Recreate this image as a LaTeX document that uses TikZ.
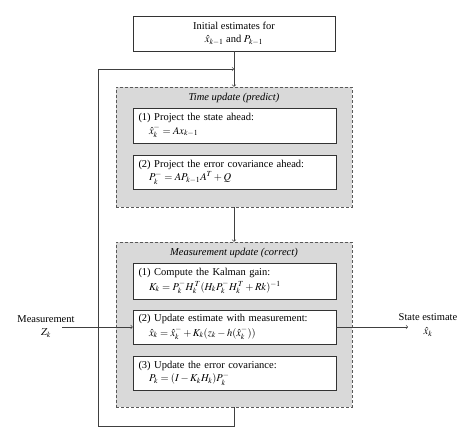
\documentclass[tikz,border=0pt]{standalone}
\usepackage{mathptmx}
\usepackage[no-math]{fontspec}
\setmainfont{Liberation Serif}
\usepackage{amsmath}
\usetikzlibrary{shapes.geometric, arrows}
\tikzstyle{startbox} = [rectangle, minimum width=202pt, minimum height=35pt, align=center, draw=black!80, fill=white, semithick]
\tikzstyle{stepbox} = [rectangle, minimum width=203pt, minimum height=35pt, text width=192pt, inner xsep=5pt, inner ysep=2pt, align=left, draw=black!80, fill=white, semithick]
\tikzstyle{groupbox} = [rectangle, minimum width=236pt, draw=black!65, fill=gray!30, dash pattern=on 3pt off 2pt, semithick]
\tikzstyle{arrow} = [semithick,->,>=to, draw=black!75]

\begin{document}
\begin{tikzpicture}[x=1pt, y=-1pt, font=\fontsize{10.5}{13.5}\selectfont]
\useasboundingbox (0,0) rectangle (474,443);

\node (init) [startbox] at (234,33.5) {Initial estimates for\\ $\hat{x}_{k-1}$ and $P_{k-1}$};

% time update
\node (timegrp) [groupbox, minimum height=120pt] at (234,147) {};
\node (timetitle) at (234,98) {\textit{Time update (predict)}};
\node (predstate) [stepbox] at (234.5,125.5) {(1) Project the state ahead:\\ \hspace*{1em}$\hat{x}_k^- = Ax_{k-1}$};
\node (predcov) [stepbox, minimum height=34pt] at (234.5,172) {(2) Project the error covariance ahead:\\ \hspace*{1em}$P_k^- = AP_{k-1}A^T + Q$};

% measurement update
\node (measgrp) [groupbox, minimum height=165pt] at (234,324.5) {};
\node (meastitle) at (234,253) {\textit{Measurement update (correct)}};
\node (gain) [stepbox, minimum height=36pt] at (234.5,281) {(1) Compute the Kalman gain:\\[1pt] \hspace*{1em}$K_k = P_k^- H_k^{\,T}(H_k P_k^- H_k^{\,T} + Rk)^{-1}$};
\node (updest) [stepbox, minimum height=34pt] at (234.5,327) {(2) Update estimate with measurement:\\[1pt] \hspace*{1em}$\hat{x}_k = \hat{x}_k^- + K_k(z_k - h(\hat{x}_k^-))$};
\node (updcov) [stepbox, minimum height=34pt] at (234.5,373) {(3) Update the error covariance:\\ \hspace*{1em}$P_k = (I - K_k H_k)P_k^-$};

\node (meas) [align=center] at (46,326.5) {Measurement\\ $Z_k$};
\node (stateest) [align=center] at (428,325) {State estimate\\ $\hat{x}_k$};

\coordinate (measin) at (62,327);
\coordinate (stateout) at (408,327);
\coordinate (loopcorner) at (98,426);
\coordinate (joinpt) at (234,69);

\draw [arrow] (init) -- (timegrp);
\draw [arrow] (timegrp) -- (measgrp);
\draw [arrow] (measin) -- (measin -| updest.west);
\draw [arrow] (updest.east) -- (stateout);
\draw [arrow] (measgrp.south) |- (loopcorner) |- (joinpt);

\end{tikzpicture}
\end{document}
